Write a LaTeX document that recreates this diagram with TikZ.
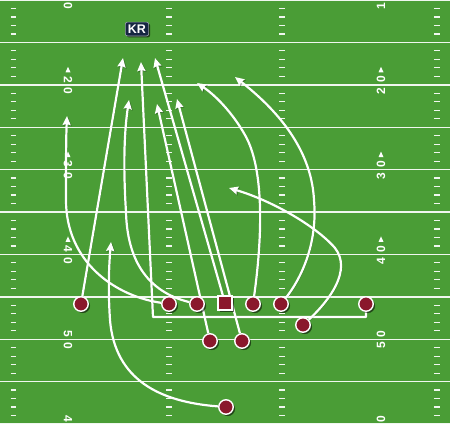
\documentclass[tikz,border=0pt]{standalone}
\usepackage{fontspec}
\setsansfont{Liberation Sans}
\usetikzlibrary{arrows.meta,shadows}
\definecolor{grass}{RGB}{74,157,54}
\definecolor{plmaroon}{RGB}{138,24,44}
\definecolor{krnavy}{RGB}{22,38,66}
\pgfdeclarelayer{fieldlayer}
\pgfdeclarelayer{routelayer}
\pgfsetlayers{fieldlayer,routelayer,main}
\tikzset{
  player/.style={circle, minimum size=14.5pt, inner sep=0pt, fill=plmaroon, draw=white, line width=1.4pt,
    drop shadow={shadow xshift=1.8pt, shadow yshift=-1.8pt, opacity=.55, fill=black}},
  cplayer/.style={rectangle, minimum size=14pt, inner sep=0pt, fill=plmaroon, draw=white, line width=1.4pt,
    drop shadow={shadow xshift=1.8pt, shadow yshift=-1.8pt, opacity=.55, fill=black}},
  route/.style={draw=white, line width=2.2pt, line join=round, -{Stealth[length=9pt,width=8pt,inset=1pt]},
    preaction={draw=black, opacity=.3, transform canvas={shift={(0.9,0.9)}}}},
  yardline/.style={draw=white, opacity=.92, line width=1.4pt},
  hashmark/.style={draw=white, opacity=.92, line width=1.2pt},
  num/.style={text=white, font=\sffamily\bfseries\fontsize{12}{12}\selectfont, inner sep=0pt},
  tri/.style={fill=white},
  kr/.style={rectangle, rounded corners=2pt, fill=krnavy, draw=white!55!krnavy, line width=0.7pt,
    text=white, font=\sffamily\bfseries\fontsize{12.5}{12.5}\selectfont, inner sep=2.6pt,
    drop shadow={shadow xshift=1.4pt, shadow yshift=-1.4pt, opacity=.6, fill=black}},
}
\begin{document}
\begin{tikzpicture}[x=1pt,y=-1pt]
\useasboundingbox (0,0) rectangle (450,424);
\clip (0,0) rectangle (450,424);
% players
\node[player] (p1) at (81,304) {};
\node[player] (p2) at (169,304) {};
\node[player] (p3) at (197,304) {};
\node[cplayer] (c) at (225,303) {};
\node[player] (p4) at (253,304) {};
\node[player] (p5) at (281,304) {};
\node[player] (p6) at (366,304) {};
\node[player] (p7) at (303,325) {};
\node[player] (p8) at (210,341) {};
\node[player] (p9) at (242,341) {};
\node[player] (p10) at (226,407) {};
\node[kr] (kr) at (137,29) {KR};
% route ends
\coordinate (t1) at (123,58);
\coordinate (t2) at (141,62);
\coordinate (t3) at (155,58);
\coordinate (t4) at (157,104);
\coordinate (t5) at (177,99);
\coordinate (t6) at (67,116);
\coordinate (t7) at (129,100);
\coordinate (t8) at (197,83);
\coordinate (t9) at (235,77);
\coordinate (t10) at (229,188);
\coordinate (t11) at (111,242);
\coordinate (b1) at (366,317);
\coordinate (b2) at (153,317);
\begin{pgfonlayer}{fieldlayer}
\fill[grass] (0,0) rectangle (450,424);
\foreach \k in {0,...,10}{\draw[yardline] (0,{42.4*\k}) -- (450,{42.4*\k});}
\foreach \k in {0,...,9}{\foreach \j in {1,...,4}{\foreach \x in {13.5,169,282,437}{
  \draw[hashmark] (\x-2.8,{42.4*\k+8.48*\j}) -- ++(5.6,0);}}}
\foreach \y/\t in {0/{1\hspace{5pt}0},84.8/{2\hspace{5pt}0},169.6/{3\hspace{5pt}0},254.4/{4\hspace{5pt}0},339.2/{5\hspace{5pt}0},424/{4\hspace{5pt}0}}{
  \node[num, rotate=-90] at (68,\y+0.5) {\t};
  \node[num, rotate=90] at (381,\y+0.5) {\t};}
\foreach \y in {84.8,169.6,254.4}{
  \fill[tri] (65.5,\y-12.5) -- (70.5,\y-12.5) -- (68,\y-18) -- cycle;
  \fill[tri] (378.5,\y-12.5) -- (383.5,\y-12.5) -- (381,\y-18) -- cycle;}
\end{pgfonlayer}
\begin{pgfonlayer}{routelayer}
\draw[route] (p1) -- (t1);
\draw[route] (p6) -- (b1) -- (b2) -- (t2);
\draw[route] (c) -- (t3);
\draw[route] (p8) -- (t4);
\draw[route] (p9) -- (t5);
\draw[route] (p2) .. controls (115,296) and (66,262) .. (66,200) .. controls (66,165) and (66,140) .. (t6);
\draw[route] (p3) .. controls (140,290) and (127,250) .. (126,212) .. controls (124,180) and (123,140) .. (t7);
\draw[route] (p4) .. controls (262,240) and (265,170) .. (245,135) .. controls (232,112) and (215,95) .. (t8);
\draw[route] (p5) .. controls (300,280) and (318,245) .. (314,200) .. controls (312,160) and (290,120) .. (t9);
\draw[route] (p7) .. controls (330,300) and (352,270) .. (335,248) .. controls (315,225) and (270,200) .. (t10);
\draw[route] (p10) .. controls (160,402) and (115,380) .. (110,320) .. controls (108,290) and (109,265) .. (t11);
\end{pgfonlayer}
\end{tikzpicture}
\end{document}
